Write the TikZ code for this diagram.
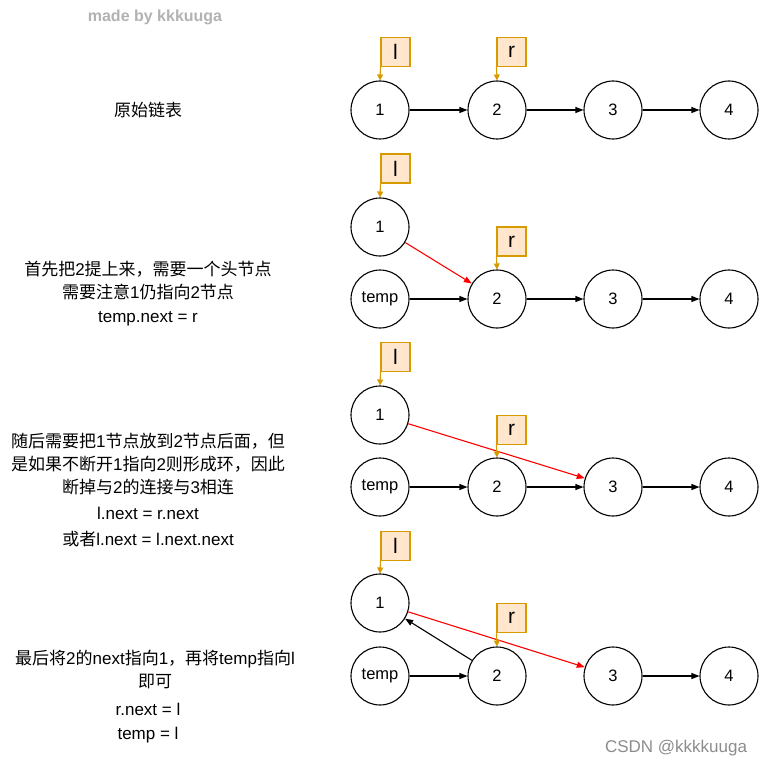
\documentclass[tikz,border=0pt]{standalone}
\usepackage{fontspec}
\setmainfont{Liberation Sans}
\newfontfamily\zhfont{Noto Sans CJK SC}
\newcommand{\zh}[1]{{\zhfont #1}}
\usetikzlibrary{arrows.meta}
\definecolor{boxfill}{HTML}{FFE6CC}
\definecolor{boxline}{HTML}{D79B00}
\begin{document}
\begin{tikzpicture}[x=1pt,y=-1pt,
  nd/.style={draw,circle,line width=1.1pt,minimum size=58pt,inner sep=0pt,font=\fontsize{16.5}{18}\selectfont},
  ptr/.style={draw=boxline,fill=boxfill,line width=1.1pt,minimum size=29pt,inner sep=0pt,font=\fontsize{21}{24}\selectfont},
  ptrarrow/.style={draw=boxline,line width=1.1pt,-{Triangle[length=6pt,width=6pt]}},
  link/.style={draw,line width=1.1pt,-{Triangle[length=8pt,width=6pt]}},
  redlink/.style={draw=red,line width=1.1pt,-{Triangle[length=8pt,width=6pt]}},
  txt/.style={align=center,inner sep=0pt,font=\fontsize{17}{23}\selectfont}]
\useasboundingbox (0,0) rectangle (768,770);
% title
\node[text=black!30,font=\bfseries\fontsize{16}{18}\selectfont] (wm) at (155,17) {made by kkkuuga};
\node[text=black!45,font=\fontsize{17}{20}\selectfont] (csdn) at (676,748) {CSDN @kkkkuuga};

% ---------- row 1
\node[txt] (t1) at (148,110) {\zh{原始链表}};
\node[nd] (a1) at (380,110) {1};
\node[nd] (a2) at (497,110) {2};
\node[nd] (a3) at (613,110) {3};
\node[nd] (a4) at (729,110) {4};
\draw[link] (a1) -- (a2);
\draw[link] (a2) -- (a3);
\draw[link] (a3) -- (a4);
\node[ptr] (al) at (395.5,52) {l};
\node[ptr] (ar) at (511.5,52) {r};
\draw[ptrarrow] (al.south west) -- (a1.north);
\draw[ptrarrow] (ar.south west) -- (a2.north);

% ---------- row 2
\node[txt] (t2) at (148,281) {\zh{首先把}2\zh{提上来，需要一个头节点}\\\zh{需要注意}1\zh{仍指向}2\zh{节点}};
\node[txt] (t2b) at (148,319) {temp.next = r};
\node[nd] (b1) at (380,227) {1};
\node[nd] (bt) at (380,299) {temp};
\node[nd] (b2) at (497,299) {2};
\node[nd] (b3) at (613,299) {3};
\node[nd] (b4) at (729,299) {4};
\draw[link] (bt) -- (b2);
\draw[link] (b2) -- (b3);
\draw[link] (b3) -- (b4);
\draw[redlink] (b1) -- (b2);
\node[ptr] (bl) at (395.5,168.5) {l};
\node[ptr] (br) at (511.5,241.5) {r};
\draw[ptrarrow] (bl.south west) -- (b1.north);
\draw[ptrarrow] (br.south west) -- (b2.north);

% ---------- row 3
\node[txt] (t3) at (148,464) {\zh{随后需要把}1\zh{节点放到}2\zh{节点后面，但}\\\zh{是如果不断开}1\zh{指向}2\zh{则形成环，因此}\\\zh{断掉与}2\zh{的连接与}3\zh{相连}};
\node[txt] (t3b) at (148,513) {l.next = r.next};
\node[txt] (t3c) at (148,539) {\zh{或者}l.next = l.next.next};
\node[nd] (c1) at (380,415) {1};
\node[nd] (ct) at (380,487) {temp};
\node[nd] (c2) at (497,487) {2};
\node[nd] (c3) at (613,487) {3};
\node[nd] (c4) at (729,487) {4};
\draw[link] (ct) -- (c2);
\draw[link] (c2) -- (c3);
\draw[link] (c3) -- (c4);
\draw[redlink] (c1) -- (c3);
\node[ptr] (cl) at (395.5,357) {l};
\node[ptr] (cr) at (511.5,430) {r};
\draw[ptrarrow] (cl.south west) -- (c1.north);
\draw[ptrarrow] (cr.south west) -- (c2.north);

% ---------- row 4
\node[txt] (t4) at (155,669.5) {\zh{最后将}2\zh{的}next\zh{指向}1\zh{，再将}temp\zh{指向}l\\\zh{即可}};
\node[txt] (t4b) at (148,709) {r.next = l};
\node[txt] (t4c) at (148,735) {temp = l};
\node[nd] (d1) at (380,603) {1};
\node[nd] (dt) at (380,676) {temp};
\node[nd] (d2) at (497,676) {2};
\node[nd] (d3) at (613,676) {3};
\node[nd] (d4) at (729,676) {4};
\draw[link] (dt) -- (d2);
\draw[link] (d3) -- (d4);
\draw[link] (d2) -- (d1);
\draw[redlink] (d1) -- (d3);
\node[ptr] (dl) at (395.5,546) {l};
\node[ptr] (dr) at (511.5,618) {r};
\draw[ptrarrow] (dl.south west) -- (d1.north);
\draw[ptrarrow] (dr.south west) -- (d2.north);
\end{tikzpicture}
\end{document}
